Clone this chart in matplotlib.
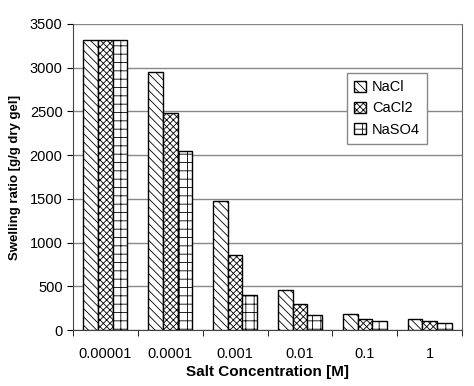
import matplotlib
matplotlib.use("Agg")
import matplotlib.pyplot as plt
import numpy as np

plt.rcParams["font.family"] = ["Liberation Sans", "DejaVu Sans"]
plt.rcParams["hatch.linewidth"] = 0.6

concentrations = ["0.00001", "0.0001", "0.001", "0.01", "0.1", "1"]
nacl = [3320, 2950, 1470, 455, 185, 130]
cacl2 = [3320, 2480, 860, 300, 130, 105]
naso4 = [3320, 2050, 400, 170, 100, 75]

series = [("NaCl", nacl, "\\\\\\\\"), ("CaCl2", cacl2, "xxxxx"), ("NaSO4", naso4, "++")]

fig = plt.figure(figsize=(4.74, 3.86), dpi=100)
ax = fig.add_axes([0.154, 0.145, 0.821, 0.793])

x = np.arange(len(concentrations))
w = 0.226
for i, (name, vals, hatch) in enumerate(series):
    ax.bar(x + (i - 1) * w, vals, w, color="white", edgecolor="black",
           linewidth=1.0, hatch=hatch, label=name, zorder=3)

ax.set_xlim(-0.5, len(concentrations) - 0.5)
ax.set_ylim(0, 3500)
ax.set_yticks(np.arange(0, 3501, 500))
ax.set_xticks(x)
ax.set_xticklabels(concentrations)
ax.set_xticks(np.arange(-0.5, len(concentrations)), minor=True)
ax.tick_params(axis="x", which="major", length=0, pad=12, labelsize=10.5)
ax.tick_params(axis="x", which="minor", length=4, direction="out")
ax.tick_params(axis="y", length=4, direction="out", labelsize=10.5)
ax.grid(axis="y", color="#888888", linewidth=1.0, zorder=0)

for s in ["left", "bottom"]:
    ax.spines[s].set_color("#444444")
ax.spines["right"].set_color("#666666")
ax.spines["top"].set_visible(False)

ax.set_xlabel("Salt Concentration [M]", fontweight="bold", fontsize=11, labelpad=3)
ax.set_ylabel("Swelling ratio [g/g dry gel]", fontweight="bold", fontsize=9.5, labelpad=6)

leg = ax.legend(loc="upper right", bbox_to_anchor=(0.91, 0.84), borderaxespad=0,
                fontsize=10.5, fancybox=False, framealpha=1, edgecolor="#888888",
                handlelength=0.8, handleheight=0.8, handletextpad=0.4,
                labelspacing=0.5, borderpad=0.5)
leg.get_frame().set_linewidth(1.0)

fig.savefig("out.png", dpi=100)
